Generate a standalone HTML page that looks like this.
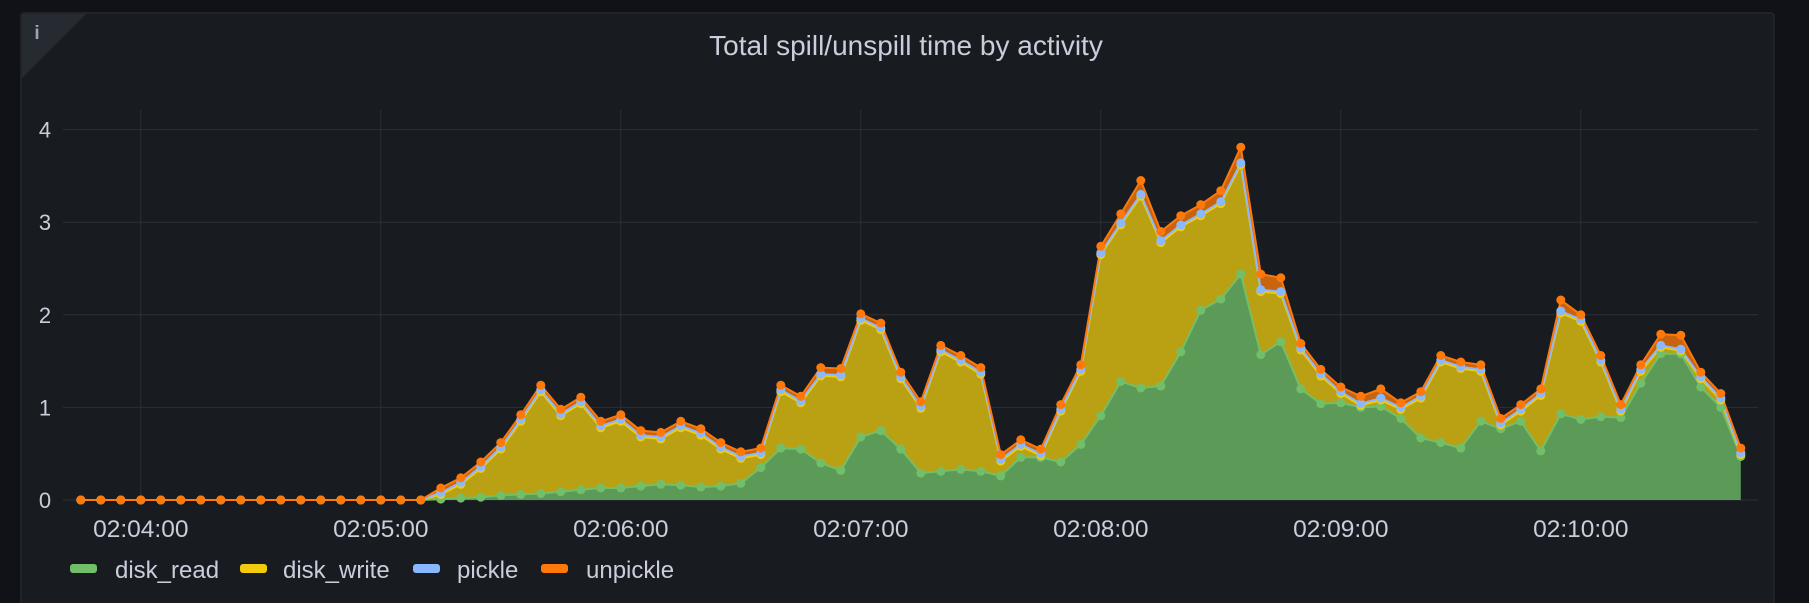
<!DOCTYPE html>
<html><head><meta charset="utf-8"><style>
html,body{margin:0;padding:0;background:#111217;width:1809px;height:603px;overflow:hidden}
svg{display:block}
text{font-family:"Liberation Sans",sans-serif}
</style></head><body>
<svg id="chart" width="1809" height="603" viewBox="0 0 1809 603">
<rect x="21" y="13" width="1753" height="600" rx="3" fill="#181b1f" stroke="#24272e" stroke-width="1.5"/>
<path d="M22 14 L86 14 L22 78 Z" fill="#262a31"/>
<text x="37" y="39" font-size="19" font-weight="bold" fill="#9fa3ab" text-anchor="middle" font-family="Liberation Mono,monospace">i</text>
<text x="906" y="55" font-size="28" fill="#ccccdc" text-anchor="middle">Total spill/unspill time by activity</text>
<g id="grid"></g><g id="areas"></g><g id="lines"></g><g id="pts"></g><g id="axes"></g>
<g>
<rect x="70" y="564" width="27" height="9" rx="3" fill="#73bf69"/>
<text x="115" y="578" font-size="24" fill="#ccccdc">disk_read</text>
<rect x="240" y="564" width="27" height="9" rx="3" fill="#f2cc0c"/>
<text x="283" y="578" font-size="24" fill="#ccccdc">disk_write</text>
<rect x="413" y="564" width="27" height="9" rx="3" fill="#8ab8ff"/>
<text x="457" y="578" font-size="24" fill="#ccccdc">pickle</text>
<rect x="541" y="564" width="27" height="9" rx="3" fill="#ff780a"/>
<text x="586" y="578" font-size="24" fill="#ccccdc">unpickle</text>
</g>
</svg>
<script>
const diskRead=[0,0,0,0,0,0,0,0,0,0,
0,0,0,0,0,0,0,0,.01,.02,
.03,.05,.06,.07,.09,.11,.13,.13,.15,.17,
.16,.14,.15,.18,.35,.56,.55,.40,.32,.68,
.75,.55,.29,.31,.33,.31,.26,.46,.46,.41,
.60,.91,1.28,1.21,1.23,1.60,2.05,2.17,2.44,1.57,
1.71,1.20,1.04,1.05,1.00,1.01,.88,.67,.62,.56,
.85,.77,.85,.53,.93,.87,.90,.89,1.26,1.58,
1.58,1.22,1.00,.47];
const diskWrite=[0,0,0,0,0,0,0,0,0,0,
0,0,0,0,0,0,0,0,.05,.15,
.31,.50,.79,1.10,.82,.93,.65,.72,.53,.49,
.62,.56,.40,.27,.14,.61,.50,.94,1.01,1.26,
1.09,.76,.70,1.29,1.16,1.05,.16,.12,.02,.55,
.79,1.74,1.69,2.07,1.55,1.35,1.02,1.03,1.18,.68,
.52,.42,.30,.10,.02,.07,.10,.43,.87,.86,
.54,.04,.11,.60,1.09,1.06,.59,.07,.13,.07,
.03,.09,.08,.02];
const pickle=[0,0,0,0,0,0,0,0,0,0,
0,0,0,0,0,0,0,0,.02,.02,
.02,.02,.02,.02,.02,.02,.02,.02,.02,.02,
.02,.02,.02,.02,.02,.02,.02,.02,.02,.02,
.02,.02,.02,.02,.02,.02,.02,.02,.02,.02,
.02,.02,.02,.02,.02,.02,.02,.02,.02,.02,
.02,.02,.02,.02,.02,.02,.02,.02,.02,.02,
.02,.02,.02,.02,.02,.02,.02,.02,.02,.02,
.02,.02,.02,.02];
const unpickle=[0,0,0,0,0,0,0,0,0,0,
0,0,0,0,0,0,0,0,.05,.05,
.05,.05,.05,.05,.05,.05,.05,.05,.05,.05,
.05,.05,.05,.05,.05,.05,.05,.07,.07,.05,
.05,.05,.05,.05,.05,.05,.05,.05,.05,.05,
.05,.07,.10,.15,.10,.10,.10,.12,.17,.17,
.15,.05,.05,.05,.08,.10,.05,.05,.05,.05,
.05,.05,.05,.05,.12,.05,.05,.05,.05,.12,
.15,.05,.05,.05];
const startSec=-15, stepSec=5;
const yTicks=[0,1,2,3,4];
const xTickLabels=["02:04:00","02:05:00","02:06:00","02:07:00","02:08:00","02:09:00","02:10:00"];
const xTickSecs=[0,60,120,180,240,300,360];

const X=s=>140.8+4.0*s, Y=v=>500-92.6*v;
const NS='http://www.w3.org/2000/svg';
function mk(tag,attrs,parent){const e=document.createElementNS(NS,tag);for(const k in attrs)e.setAttribute(k,attrs[k]);document.getElementById(parent).appendChild(e);return e;}
yTicks.forEach(v=>{
 const l=mk('line',{x1:63,x2:1758,y1:Y(v),y2:Y(v),stroke:'#2c2f35','stroke-width':1},'grid');
 
 
 const t=mk('text',{x:45,y:Y(v)+8,'font-size':22,fill:'#ccccdc','text-anchor':'middle'},'axes');
 t.textContent=v;
 
 
});
xTickSecs.forEach((s,i)=>{
 const l=mk('line',{x1:X(s),x2:X(s),y1:110,y2:500,stroke:'#2c2f35','stroke-width':1},'grid');
 
 
 const t=mk('text',{x:X(s),y:537,'font-size':24.5,fill:'#ccccdc','text-anchor':'middle'},'axes');
 t.textContent=xTickLabels[i];
 
 
});
const series=[
 {name:'disk-read',d:diskRead,fill:'#5b9a57',line:'#73bf69'},
 {name:'disk-write',d:diskWrite,fill:'#b9a113',line:'#f2cc0c'},
 {name:'pickle',d:pickle,fill:'#7f9bc0',line:'#8ab8ff'},
 {name:'unpickle',d:unpickle,fill:'#c8640e',line:'#ff780a'}];
const n=diskRead.length;
let base=new Array(n).fill(0);
series.forEach(sr=>{
 const top=base.map((b,i)=>b+sr.d[i]);
 const xs=top.map((_,i)=>X(startSec+i*stepSec));
 let d='M'+xs.map((x,i)=>x.toFixed(1)+' '+Y(top[i]).toFixed(1)).join(' L');
 for(let i=n-1;i>=0;i--)d+=' L'+xs[i].toFixed(1)+' '+Y(base[i]).toFixed(1);
 const a=mk('path',{d:d+'Z',fill:sr.fill},'areas');
 
 
 const ln=mk('polyline',{points:xs.map((x,i)=>x.toFixed(1)+','+Y(top[i]).toFixed(1)).join(' '),fill:'none',stroke:sr.line,'stroke-width':2},'lines');
 
 
 top.forEach((v,i)=>{
  const c=mk('circle',{cx:xs[i].toFixed(1),cy:Y(v).toFixed(1),r:4.5,fill:sr.line},'pts');
  
  
 });
 base=top;
});
</script>
</body></html>
